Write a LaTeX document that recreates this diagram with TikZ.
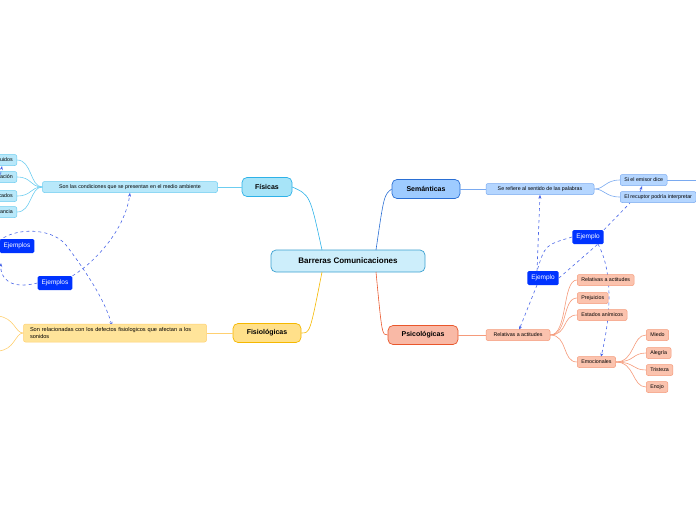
\documentclass[tikz,border=0pt]{standalone}
\usepackage{fontspec}
\setmainfont{Liberation Sans}
\usetikzlibrary{arrows.meta}
\definecolor{cb}{HTML}{CDEEFB}\definecolor{cbd}{HTML}{3AA0D0}
\definecolor{fb}{HTML}{A7E4F8}\definecolor{fbd}{HTML}{2EB2E8}
\definecolor{yb}{HTML}{FFE08A}\definecolor{ybd}{HTML}{F5B800}
\definecolor{ylb}{HTML}{FFE49A}\definecolor{yll}{HTML}{FFD070}
\definecolor{sb}{HTML}{9ECBFF}\definecolor{sbd}{HTML}{2A6FD4}
\definecolor{slb}{HTML}{B5D6FF}\definecolor{sll}{HTML}{7AAAF0}
\definecolor{pb}{HTML}{F9B9A6}\definecolor{pbd}{HTML}{E9572C}
\definecolor{plb}{HTML}{FBC3AE}\definecolor{pll}{HTML}{F59A7A}
\definecolor{flb}{HTML}{B8E8FA}\definecolor{fll}{HTML}{6CCDF0}
\definecolor{ej}{HTML}{0033FF}\definecolor{dl}{HTML}{4A66E8}
\tikzset{
 main/.style={draw,rounded corners=5pt,line width=0.7pt,minimum height=19pt,font=\fontsize{7}{8}\selectfont\bfseries,inner xsep=6pt},
 leaf/.style={draw,rounded corners=2pt,line width=0.5pt,minimum height=11pt,font=\fontsize{5.3}{6}\selectfont,inner xsep=4pt,inner ysep=1.5pt},
 ejb/.style={fill=ej,text=white,rounded corners=1.5pt,minimum height=14pt,font=\fontsize{6.5}{7}\selectfont,inner xsep=4pt},
 dsh/.style={dl,dashed,line width=0.6pt,-{Stealth[length=4pt]}},
 dshn/.style={dl,dashed,line width=0.6pt},
 br/.style={line width=0.6pt}
}
\begin{document}
\begin{tikzpicture}[x=1pt,y=-1pt]
\useasboundingbox (0,0) rectangle (696,520);
\clip (0,0) rectangle (696,520);
% central
\node[main,fill=cb,draw=cbd,minimum width=154pt,minimum height=22pt,font=\fontsize{8}{9}\selectfont\bfseries] (c) at (348,261) {Barreras Comunicaciones};
\node[main,fill=fb,draw=fbd,minimum width=50pt] (fis) at (267,187) {Físicas};
\node[main,fill=yb,draw=ybd,minimum width=68pt] (fisio) at (267,333) {Fisiológicas};
\node[main,fill=sb,draw=sbd,minimum width=68pt] (sem) at (426,189) {Semánticas};
\node[main,fill=pb,draw=pbd,minimum width=70pt] (psi) at (423,335) {Psicológicas};
\draw[br,fbd] (322,250) .. controls (310,195) .. (fis.east);
\draw[br,ybd] (322,272) .. controls (310,333) .. (fisio.east);
\draw[br,sbd] (376,250) .. controls (384,195) .. (sem.west);
\draw[br,pbd] (376,272) .. controls (382,335) .. (psi.west);
% fisicas
\node[leaf,fill=flb,draw=fll,minimum width=175pt] (f1) at (130,187) {Son las condiciones que se presentan en el medio ambiente};
\draw[br,fll] (f1.east) -- (fis.west);
\foreach \y/\t/\n in {160/Ruidos/a,177/Iluminación/b,196/Objetos mal ubicados/c,212/Distancia/d}{
 \node[leaf,fill=flb,draw=fll,anchor=east] (f\n) at (17,\y) {\t};
 \draw[br,fll] (f\n.east) .. controls (32,\y) and (30,187) .. (f1.west);}
\node[ejb] (e1) at (17,246) {Ejemplos};
\node[ejb] (e2) at (55,283) {Ejemplos};
\draw[dsh] (e2.north east) .. controls (95,262) and (125,230) .. (f1.south);
\draw[dsh] (e2.west) .. controls (10,290) and (0,278) .. (1,263);
\draw[dsh] (-5,246) .. controls (5,228) and (50,225) .. (66,245) .. controls (85,270) and (105,300) .. (112,326);
\draw[dsh] (-5,185) .. controls (0,178) .. (2,166);
% fisiologicas
\node[leaf,fill=ylb,draw=yll,minimum width=183pt,minimum height=18pt,align=left,text width=170pt,font=\fontsize{5.6}{6.5}\selectfont] (y1) at (115,333) {Son relacionadas con los defectos fisiologicos que afectan a los sonidos};
\draw[br,yll] (y1.east) -- (fisio.west);
\draw[br,yll] (y1.west) .. controls (15,333) and (15,318) .. (-2,316);
\draw[br,yll] (y1.west) .. controls (15,333) and (15,350) .. (-2,351);
% semanticas
\node[leaf,fill=slb,draw=sll,minimum width=108pt] (s1) at (540,189) {Se refiere al sentido de las palabras};
\draw[br,sll] (sem.east) -- (s1.west);
\node[leaf,fill=slb,draw=sll,anchor=west] (s2) at (620,180) {Si el emisor dice};
\node[leaf,fill=slb,draw=sll,anchor=west] (s3) at (620,197) {El recuptor podría interpretar};
\draw[br,sll] (s1.east) .. controls (605,189) and (605,180) .. (s2.west);
\draw[br,sll] (s1.east) .. controls (605,189) and (605,197) .. (s3.west);
\draw[br,sll] (s2.east) -- (700,180);
\draw[dsh] (640,192) -- (642,186);
\node[ejb] (j1) at (588,237) {Ejemplo};
\node[ejb] (j2) at (543,278) {Ejemplo};
\draw[dsh] (537,271) -- (s1.south);
\draw[dsh] (537,285) -- (519,330);
\draw[dshn] (j1.west) .. controls (545,245) .. (537,271);
\draw[dshn] (j1.north east) -- (630,203);
\draw[dshn] (j2.east) -- (598,244);
\draw[dsh] (598,244) .. controls (612,270) and (612,310) .. (601,357);
% psicologicas
\node[leaf,fill=plb,draw=pll,minimum width=64pt] (p1) at (518,335) {Relativas a actitudes};
\draw[br,pll] (psi.east) -- (p1.west);
\foreach \y/\t/\n in {280/Relativas a actitudes/a,298/Prejuicios/b,315/Estados anímicos/c,362/Emocionales/d}{
 \node[leaf,fill=plb,draw=pll,anchor=west] (p\n) at (577,\y) {\t};
 \draw[br,pll] (p1.east) .. controls (568,335) and (562,\y) .. (p\n.west);}
\foreach \y/\t/\n in {335/Miedo/e,353/Alegría/f,370/Tristeza/g,387/Enojo/h}{
 \node[leaf,fill=plb,draw=pll,anchor=west] (p\n) at (646,\y) {\t};
 \draw[br,pll] (pd.east) .. controls (635,362) and (632,\y) .. (p\n.west);}
\end{tikzpicture}
\end{document}
